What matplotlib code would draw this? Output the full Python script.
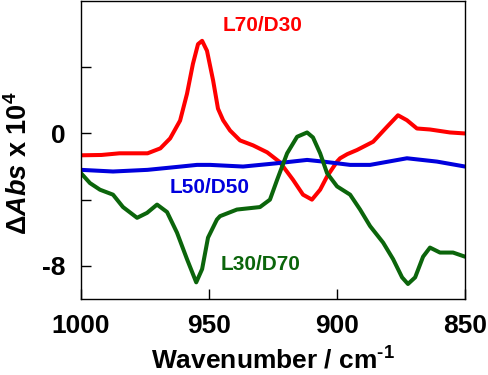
import matplotlib
matplotlib.use("Agg")
import matplotlib.pyplot as plt

# wavenumber (cm-1) and dAbs x 10^4
red_x = [1000, 992, 985, 974, 969, 965.2, 961.3, 958.6, 956.3, 954.3, 952.7, 950.8,
         948.4, 946.5, 944.5, 941.8, 937.9, 932.8, 927.3, 922.3, 917.2, 913.3, 909.8,
         906.6, 903.9, 900, 898.8, 896, 892.2, 885.9, 880.5, 876.2, 872.7, 868.8,
         863.7, 855.9, 850]
red_y = [-1.32, -1.3, -1.2, -1.2, -0.9, -0.3, 0.78, 2.4, 4.2, 5.4, 5.6, 5.0,
         3.2, 1.5, 0.8, 0.18, -0.42, -0.72, -1.14, -1.74, -2.8, -3.7, -4.0,
         -3.4, -2.6, -1.7, -1.5, -1.25, -1.0, -0.5, 0.4, 1.1, 0.8, 0.3,
         0.24, 0.06, 0.0]

blue_x = [1000, 987.5, 974, 961, 954.7, 949.6, 936.7, 923.4, 911.7, 905.5, 894.9,
          887.1, 872.7, 861, 850]
blue_y = [-2.2, -2.3, -2.2, -2.0, -1.9, -1.9, -2.0, -1.8, -1.6, -1.7, -1.9,
          -1.9, -1.5, -1.7, -2.0]

green_x = [1000, 996.5, 992.6, 987.5, 983.6, 978.1, 974.2, 970.3, 966.4, 962.5, 958.6,
           955, 952.7, 950.4, 946.9, 945.7, 939.1, 930.1, 926.2, 923.4, 919.5, 915.6,
           911.7, 909.4, 906.6, 903.9, 900, 894.9, 891, 887.1, 882, 878.1, 874.6,
           872.3, 869.5, 866.4, 863.7, 859.8, 854.7, 850]
green_y = [-2.4, -3.0, -3.4, -3.7, -4.45, -5.1, -4.8, -4.3, -4.75, -6.0, -7.6,
           -9.0, -8.2, -6.3, -5.2, -5.0, -4.6, -4.45, -4.0, -2.8, -1.2, -0.2,
           0.06, -0.24, -1.2, -2.4, -3.2, -3.7, -4.6, -5.6, -6.6, -7.6, -8.7,
           -9.1, -8.7, -7.45, -6.9, -7.2, -7.2, -7.45]

x_ticks = [1000, 950, 900, 850]
y_ticks = [4, 0, -4, -8]
y_tick_labels = ["", "0", "", "-8"]

plt.rcParams["font.family"] = ["Liberation Sans", "DejaVu Sans"]
plt.rcParams["font.weight"] = "bold"
plt.rcParams["mathtext.fontset"] = "custom"
plt.rcParams["mathtext.rm"] = "Liberation Sans:bold"
plt.rcParams["mathtext.it"] = "Liberation Sans:bold:italic"
plt.rcParams["mathtext.bf"] = "Liberation Sans:bold"

fig = plt.figure(figsize=(4.88, 3.75), dpi=100)
ax = fig.add_axes([0.166, 0.203, 0.787, 0.794])

# round joins so the traced spectra look less jagged
for xs, ys, c in [(red_x, red_y, "#ff0000"), (blue_x, blue_y, "#0000dd"),
                  (green_x, green_y, "#0b650b")]:
    ax.plot(xs, ys, color=c, lw=2.9, solid_joinstyle="round", solid_capstyle="round")

ax.text(929, 6.5, "L70/D30", color="#ff0000", fontsize=15, fontweight="bold",
        ha="center", va="center")
ax.text(949.6, -3.25, "L50/D50", color="#0000dd", fontsize=15, fontweight="bold",
        ha="center", va="center")
ax.text(930, -7.95, "L30/D70", color="#0b650b", fontsize=15, fontweight="bold",
        ha="center", va="center")

ax.set_xlim(1000, 850)
ax.set_ylim(-10, 8)
ax.set_xticks(x_ticks)
ax.set_xticklabels([str(t) for t in x_ticks])
ax.set_yticks(y_ticks)
ax.set_yticklabels(y_tick_labels)
ax.tick_params(direction="in", length=7, width=1, labelsize=19, pad=11)
for s in ax.spines.values():
    s.set_linewidth(1.0)

ax.set_xlabel(r"Wavenumber / cm$^{\text{-1}}$", fontsize=19, fontweight="bold", labelpad=6)
ax.set_ylabel(r"$\Delta\mathit{Abs}$ x 10$^4$", fontsize=19.5, fontweight="bold")
ax.yaxis.set_label_coords(-0.125, 0.455)

fig.savefig("out.png", dpi=100)
